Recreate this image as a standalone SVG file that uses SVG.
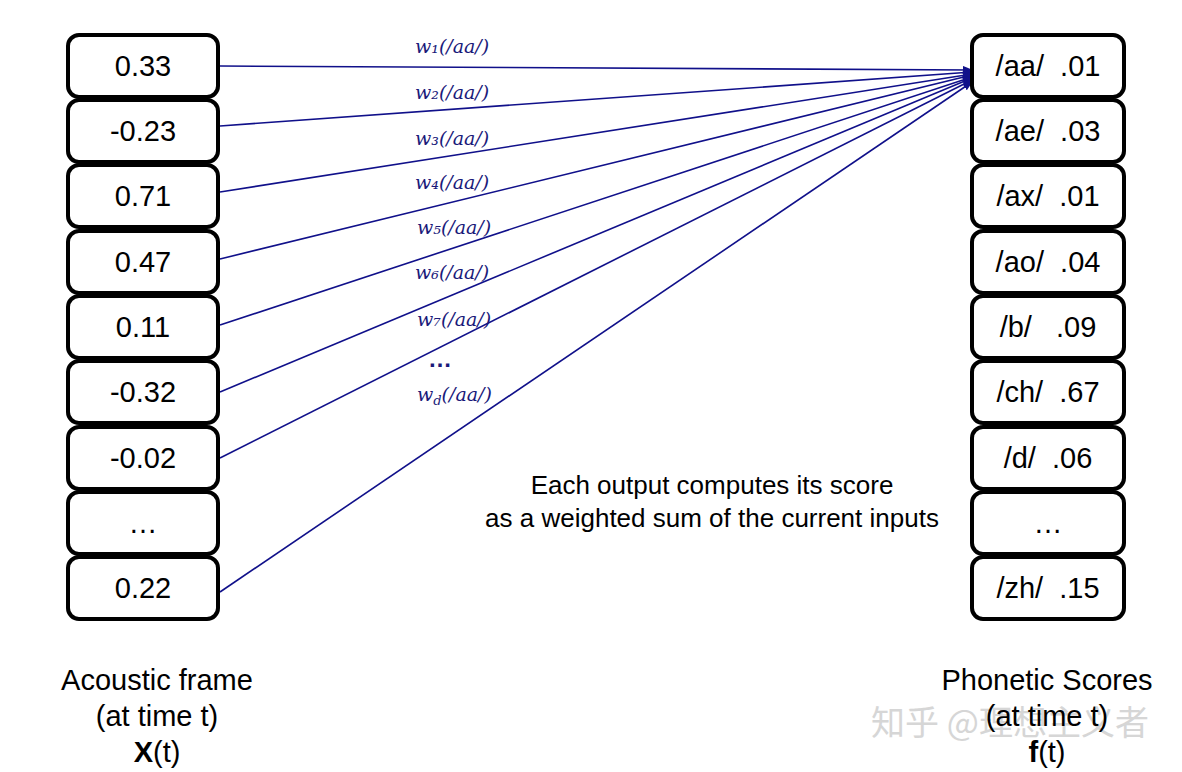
<svg xmlns="http://www.w3.org/2000/svg" width="1182" height="772" viewBox="0 0 1182 772">
<style>
.b{fill:#fff;stroke:#000;stroke-width:4}
.t{font-family:"Liberation Sans",Arial,sans-serif;font-size:29px;text-anchor:middle;fill:#000;white-space:pre}
.w{font-family:"DejaVu Serif","Liberation Serif",serif;font-style:italic;font-size:19px;fill:#1a1a7a}
.c line{stroke:#10108a;stroke-width:1.6}
.l{font-family:"Liberation Sans",Arial,sans-serif;font-size:29px;text-anchor:middle;fill:#000}
</style>
<defs><marker id="a" markerWidth="10" markerHeight="8" refX="9" refY="4" orient="auto" markerUnits="userSpaceOnUse" viewBox="0 0 10 8"><path d="M0,0L10,4L0,8z" fill="#10108a"/></marker></defs>
<rect width="1182" height="772" fill="#fff"/>
<g class="c">
<line x1="220" y1="66" x2="972" y2="70" marker-end="url(#a)"/>
<line x1="220" y1="126" x2="972" y2="72" marker-end="url(#a)"/>
<line x1="220" y1="192" x2="972" y2="74" marker-end="url(#a)"/>
<line x1="220" y1="259" x2="972" y2="75" marker-end="url(#a)"/>
<line x1="220" y1="325" x2="972" y2="77" marker-end="url(#a)"/>
<line x1="220" y1="392" x2="972" y2="78" marker-end="url(#a)"/>
<line x1="220" y1="458" x2="972" y2="80" marker-end="url(#a)"/>
<line x1="220" y1="592" x2="972" y2="82" marker-end="url(#a)"/>
</g>
<g id="weights">
<text class="w" x="415" y="53">w₁(/aa/)</text>
<text class="w" x="415" y="99">w₂(/aa/)</text>
<text class="w" x="415" y="145">w₃(/aa/)</text>
<text class="w" x="415" y="189">w₄(/aa/)</text>
<text class="w" x="417" y="234">w₅(/aa/)</text>
<text class="w" x="415" y="279">w₆(/aa/)</text>
<text class="w" x="417" y="326">w₇(/aa/)</text>
<text x="440" y="367" style="font-family:'Liberation Sans',sans-serif;font-size:24px;fill:#1a1a7a;text-anchor:middle;font-weight:bold">…</text>
<text class="w" x="417" y="401">w<tspan font-size="13" dy="4">d</tspan><tspan dy="-4">(/aa/)</tspan></text>
</g>
<g id="in0"><rect class="b" x="68" y="35" width="150" height="62" rx="11"/><text class="t" x="143" y="76">0.33</text></g>
<g id="in1"><rect class="b" x="68" y="100" width="150" height="62" rx="11"/><text class="t" x="143" y="141">-0.23</text></g>
<g id="in2"><rect class="b" x="68" y="165" width="150" height="62" rx="11"/><text class="t" x="143" y="206">0.71</text></g>
<g id="in3"><rect class="b" x="68" y="231" width="150" height="62" rx="11"/><text class="t" x="143" y="272">0.47</text></g>
<g id="in4"><rect class="b" x="68" y="296" width="150" height="62" rx="11"/><text class="t" x="143" y="337">0.11</text></g>
<g id="in5"><rect class="b" x="68" y="361" width="150" height="62" rx="11"/><text class="t" x="143" y="402">-0.32</text></g>
<g id="in6"><rect class="b" x="68" y="427" width="150" height="62" rx="11"/><text class="t" x="143" y="468">-0.02</text></g>
<g id="in7"><rect class="b" x="68" y="492" width="150" height="62" rx="11"/><text class="t" x="143" y="533">…</text></g>
<g id="in8"><rect class="b" x="68" y="557" width="150" height="62" rx="11"/><text class="t" x="143" y="598">0.22</text></g>
<g id="out0"><rect class="b" x="972" y="35" width="152" height="62" rx="11"/><text class="t" x="1048" y="76">/aa/  .01</text></g>
<g id="out1"><rect class="b" x="972" y="100" width="152" height="62" rx="11"/><text class="t" x="1048" y="141">/ae/  .03</text></g>
<g id="out2"><rect class="b" x="972" y="165" width="152" height="62" rx="11"/><text class="t" x="1048" y="206">/ax/  .01</text></g>
<g id="out3"><rect class="b" x="972" y="231" width="152" height="62" rx="11"/><text class="t" x="1048" y="272">/ao/  .04</text></g>
<g id="out4"><rect class="b" x="972" y="296" width="152" height="62" rx="11"/><text class="t" x="1048" y="337">/b/   .09</text></g>
<g id="out5"><rect class="b" x="972" y="361" width="152" height="62" rx="11"/><text class="t" x="1048" y="402">/ch/  .67</text></g>
<g id="out6"><rect class="b" x="972" y="427" width="152" height="62" rx="11"/><text class="t" x="1048" y="468">/d/  .06</text></g>
<g id="out7"><rect class="b" x="972" y="492" width="152" height="62" rx="11"/><text class="t" x="1048" y="533">…</text></g>
<g id="out8"><rect class="b" x="972" y="557" width="152" height="62" rx="11"/><text class="t" x="1048" y="598">/zh/  .15</text></g>
<text class="l" x="712" y="494" style="font-size:26px">Each output computes its score</text>
<text class="l" x="712" y="527" style="font-size:26px">as a weighted sum of the current inputs</text>
<g id="lblL"><text class="l" x="157" y="690">Acoustic frame</text><text class="l" x="157" y="726">(at time t)</text><text class="l" x="157" y="762"><tspan font-weight="bold">X</tspan>(t)</text></g>
<text x="1010" y="735" style="font-family:'Noto Sans CJK SC',sans-serif;font-size:34px;fill:#ccc;text-anchor:middle;opacity:0.8">知乎 @理想主义者</text>
<g id="lblR"><text class="l" x="1047" y="690">Phonetic Scores</text><text class="l" x="1047" y="726">(at time t)</text><text class="l" x="1047" y="762"><tspan font-weight="bold">f</tspan>(t)</text></g>
</svg>
